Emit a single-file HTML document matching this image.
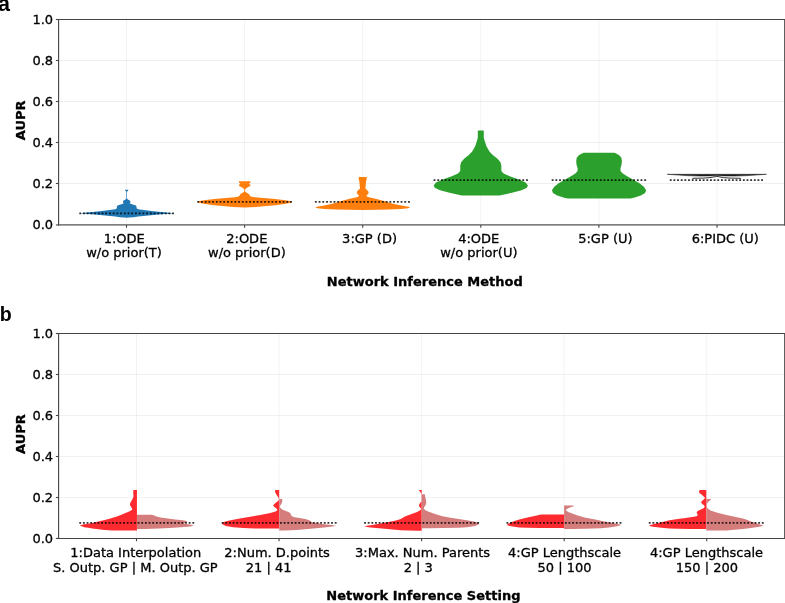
<!DOCTYPE html>
<html lang="en"><head><meta charset="utf-8"><title>AUPR violin plots</title>
<style>html,body{margin:0;padding:0;background:#fff}svg{display:block}text{font-family:'DejaVu Sans', 'Liberation Sans', sans-serif;fill:#000;stroke:#000;stroke-width:0.3px}.b{font-weight:bold}.pl{font-family:'Liberation Sans', 'DejaVu Sans', sans-serif;font-weight:bold;font-size:20px;stroke:none}</style></head><body>
<svg width="785" height="603" viewBox="0 0 785 603">
<rect width="785" height="603" fill="#fff"/>
<line x1="58.5" x2="784.5" y1="183.5" y2="183.5" stroke="#000" stroke-opacity="0.065" stroke-width="1"/>
<line x1="58.5" x2="784.5" y1="142.5" y2="142.5" stroke="#000" stroke-opacity="0.065" stroke-width="1"/>
<line x1="58.5" x2="784.5" y1="101.5" y2="101.5" stroke="#000" stroke-opacity="0.065" stroke-width="1"/>
<line x1="58.5" x2="784.5" y1="60.5" y2="60.5" stroke="#000" stroke-opacity="0.065" stroke-width="1"/>
<line x1="126.5" x2="126.5" y1="19.5" y2="224.5" stroke="#000" stroke-opacity="0.05" stroke-width="1"/>
<line x1="244.6" x2="244.6" y1="19.5" y2="224.5" stroke="#000" stroke-opacity="0.05" stroke-width="1"/>
<line x1="362.7" x2="362.7" y1="19.5" y2="224.5" stroke="#000" stroke-opacity="0.05" stroke-width="1"/>
<line x1="480.8" x2="480.8" y1="19.5" y2="224.5" stroke="#000" stroke-opacity="0.05" stroke-width="1"/>
<line x1="598.9" x2="598.9" y1="19.5" y2="224.5" stroke="#000" stroke-opacity="0.05" stroke-width="1"/>
<line x1="717" x2="717" y1="19.5" y2="224.5" stroke="#000" stroke-opacity="0.05" stroke-width="1"/>
<path d="M128.38 189.82 L128.08 190.74 L127.16 191.5 L127.01 192.12 L127.01 198.61 L127.85 199.61 L129.76 200.53 L130.37 201.29 L130.37 202.44 L129.61 203.2 L131.29 203.97 L133.58 204.73 L135.87 205.5 L136.64 206.64 L136.49 208.17 L137.4 208.78 L138.17 209.32 L141.99 209.85 L145.81 210.31 L153.46 211.23 L161.1 211.99 L168.75 212.76 L174.1 213.29 L168.75 213.68 L161.1 214.29 L153.46 214.9 L145.81 215.66 L138.17 216.58 L133.58 217.19 L128.99 217.57 L126.7 217.73 L126.7 217.73 L124.41 217.57 L119.82 217.19 L115.23 216.58 L107.59 215.66 L99.94 214.9 L92.3 214.29 L84.65 213.68 L79.3 213.29 L84.65 212.76 L92.3 211.99 L99.94 211.23 L107.59 210.31 L111.41 209.85 L115.23 209.32 L116 208.78 L116.91 208.17 L116.76 206.64 L117.53 205.5 L119.82 204.73 L122.11 203.97 L123.79 203.2 L123.03 202.44 L123.03 201.29 L123.64 200.53 L125.55 199.61 L126.39 198.61 L126.39 192.12 L126.24 191.5 L125.32 190.74 L125.02 189.82 Z" fill="#1f77b4"/>
<line x1="79.3" x2="174" y1="213.3" y2="213.3" stroke="#000" stroke-opacity="0.8" stroke-width="1.65" stroke-dasharray="1.85 1.864"/>
<path d="M250.43 181.21 L250.43 182.74 L249.29 183.35 L249.29 184.12 L250.43 184.73 L250.43 185.65 L249.29 186.56 L247.38 187.56 L245.62 188.7 L245.08 189.85 L245.08 191.38 L246.23 192.53 L248.52 193.67 L249.44 194.82 L250.05 195.97 L251.58 196.73 L254.64 197.27 L263.81 198.03 L275.28 199.02 L285.22 200.17 L289.81 200.94 L292.1 201.85 L290.57 202.85 L284.46 203.99 L275.28 205.14 L263.81 206.29 L256.17 207.05 L244.7 207.59 L244.7 207.59 L233.23 207.05 L225.59 206.29 L214.12 205.14 L204.94 203.99 L198.83 202.85 L197.3 201.85 L199.59 200.94 L204.18 200.17 L214.12 199.02 L225.59 198.03 L234.76 197.27 L237.82 196.73 L239.35 195.97 L239.96 194.82 L240.88 193.67 L243.17 192.53 L244.32 191.38 L244.32 189.85 L243.78 188.7 L242.02 187.56 L240.11 186.56 L238.97 185.65 L238.97 184.73 L240.11 184.12 L240.11 183.35 L238.97 182.74 L238.97 181.21 Z" fill="#ff7f0e"/>
<line x1="197.3" x2="291.9" y1="201.85" y2="201.85" stroke="#000" stroke-opacity="0.8" stroke-width="1.65" stroke-dasharray="1.85 1.860"/>
<path d="M366.68 176.91 L366.68 179.35 L366.14 180.88 L365.91 183.17 L365.61 186.23 L365.38 188.14 L366.14 189.29 L367.44 190.44 L368.43 191.58 L368.66 192.73 L368.05 193.88 L366.9 195.02 L366.52 196.17 L368.05 196.94 L371.11 197.7 L375.7 198.85 L380.28 199.99 L384.87 201.37 L389.46 202.75 L394.05 203.97 L399.01 205.12 L403.98 206.11 L408.57 206.87 L410.1 207.41 L407.81 208.17 L400.93 208.94 L389.46 209.55 L362.7 209.93 L362.7 209.93 L335.94 209.55 L324.47 208.94 L317.59 208.17 L315.3 207.41 L316.83 206.87 L321.42 206.11 L326.39 205.12 L331.35 203.97 L335.94 202.75 L340.53 201.37 L345.12 199.99 L349.7 198.85 L354.29 197.7 L357.35 196.94 L358.88 196.17 L358.5 195.02 L357.35 193.88 L356.74 192.73 L356.97 191.58 L357.96 190.44 L359.26 189.29 L360.02 188.14 L359.79 186.23 L359.49 183.17 L359.26 180.88 L358.72 179.35 L358.72 176.91 Z" fill="#ff7f0e"/>
<line x1="314.9" x2="409.9" y1="201.9" y2="201.9" stroke="#000" stroke-opacity="0.8" stroke-width="1.65" stroke-dasharray="1.85 1.876"/>
<path d="M483.44 130.54 L483.79 130.9 L483.79 137.57 L484.67 141.09 L486.42 146.36 L489.59 151.63 L493.1 155.15 L497.5 158.66 L500.48 162.18 L501.36 165.69 L501.36 170.97 L503.65 173.6 L509.8 176.24 L519.46 179.75 L525.62 182.39 L527.9 185.38 L526.85 187.66 L521.57 190.3 L511.03 192.93 L500.84 195.22 L499.78 195.57 L461.82 195.57 L460.76 195.22 L450.57 192.93 L440.03 190.3 L434.75 187.66 L433.7 185.38 L435.98 182.39 L442.14 179.75 L451.8 176.24 L457.95 173.6 L460.24 170.97 L460.24 165.69 L461.12 162.18 L464.1 158.66 L468.5 155.15 L472.01 151.63 L475.18 146.36 L476.93 141.09 L477.81 137.57 L477.81 130.9 L478.16 130.54 Z" fill="#2ca02c"/>
<line x1="433.6" x2="527.9" y1="180.1" y2="180.1" stroke="#000" stroke-opacity="0.8" stroke-width="1.65" stroke-dasharray="1.85 1.848"/>
<path d="M614.52 152.86 L616.62 153.74 L619.26 155.15 L621.37 157.79 L621.9 161.3 L621.55 164.82 L620.49 168.33 L620.49 170.97 L622.78 173.6 L627.17 176.24 L633.32 179.75 L639.47 183.27 L643.87 186.78 L646.15 190.3 L645.1 192.93 L640.88 195.57 L633.85 197.86 L630.33 198.56 L567.77 198.56 L564.25 197.86 L557.22 195.57 L553 192.93 L551.95 190.3 L554.23 186.78 L558.63 183.27 L564.78 179.75 L570.93 176.24 L575.32 173.6 L577.61 170.97 L577.61 168.33 L576.55 164.82 L576.2 161.3 L576.73 157.79 L578.84 155.15 L581.48 153.74 L583.58 152.86 Z" fill="#2ca02c"/>
<line x1="551.7" x2="646.1" y1="180.1" y2="180.1" stroke="#000" stroke-opacity="0.8" stroke-width="1.65" stroke-dasharray="1.85 1.852"/>
<path d="M667.2 174.3 L766.5 174.3 L748 175.6 L734 176.1 L724 175.9 L716.8 175.4 L710 175.9 L700 176.1 L686 175.6 Z" fill="#1a1a1a" stroke="#1a1a1a" stroke-width="0.5" stroke-linejoin="round"/>
<path d="M692.8 179.2 L692.8 178.3 L703 178.1 L710 177.6 L716.8 176.4 L723.5 177.6 L730 178.1 L740.4 178.3 L740.4 179.2" fill="none" stroke="#2a2a2a" stroke-width="0.95"/>
<line x1="669.8" x2="763" y1="180.15" y2="180.15" stroke="#000" stroke-opacity="0.8" stroke-width="1.65" stroke-dasharray="1.85 1.804"/>
<rect x="58" y="224" width="727" height="1" fill="#808080"/><rect x="58" y="225" width="727" height="1" fill="#a6a6a6"/>
<path d="M58.6 19.5 L58.6 224.97 M784.7 19.5 L784.7 224.97 M58.6 19.5 L784.5 19.5" fill="none" stroke="#444" stroke-width="1.1" stroke-linecap="square"/>
<line x1="55.9" x2="58.5" y1="224.97" y2="224.97" stroke="#444" stroke-width="1.1"/>
<text x="53.1" y="229.4" font-size="13" text-anchor="end">0.0</text>
<line x1="55.9" x2="58.5" y1="183.5" y2="183.5" stroke="#444" stroke-width="1.1"/>
<text x="53.1" y="188.4" font-size="13" text-anchor="end">0.2</text>
<line x1="55.9" x2="58.5" y1="142.5" y2="142.5" stroke="#444" stroke-width="1.1"/>
<text x="53.1" y="147.4" font-size="13" text-anchor="end">0.4</text>
<line x1="55.9" x2="58.5" y1="101.5" y2="101.5" stroke="#444" stroke-width="1.1"/>
<text x="53.1" y="106.4" font-size="13" text-anchor="end">0.6</text>
<line x1="55.9" x2="58.5" y1="60.5" y2="60.5" stroke="#444" stroke-width="1.1"/>
<text x="53.1" y="65.4" font-size="13" text-anchor="end">0.8</text>
<line x1="55.9" x2="58.5" y1="19.5" y2="19.5" stroke="#444" stroke-width="1.1"/>
<text x="53.1" y="24.4" font-size="13" text-anchor="end">1.0</text>
<line x1="126.5" x2="126.5" y1="224.97" y2="227.77" stroke="#444" stroke-width="1.1"/>
<line x1="244.6" x2="244.6" y1="224.97" y2="227.77" stroke="#444" stroke-width="1.1"/>
<line x1="362.7" x2="362.7" y1="224.97" y2="227.77" stroke="#444" stroke-width="1.1"/>
<line x1="480.8" x2="480.8" y1="224.97" y2="227.77" stroke="#444" stroke-width="1.1"/>
<line x1="598.9" x2="598.9" y1="224.97" y2="227.77" stroke="#444" stroke-width="1.1"/>
<line x1="717" x2="717" y1="224.97" y2="227.77" stroke="#444" stroke-width="1.1"/>
<text x="124.2" y="242.5" font-size="13" text-anchor="middle">1:ODE</text>
<text x="124" y="257.4" font-size="13" text-anchor="middle">w/o prior(T)</text>
<text x="246.8" y="242.5" font-size="13" text-anchor="middle">2:ODE</text>
<text x="246.9" y="257.4" font-size="13" text-anchor="middle">w/o prior(D)</text>
<text x="369.55" y="242.5" font-size="13" text-anchor="middle">3:GP (D)</text>
<text x="478.7" y="242.5" font-size="13" text-anchor="middle">4:ODE</text>
<text x="478.85" y="257.4" font-size="13" text-anchor="middle">w/o prior(U)</text>
<text x="605.4" y="242.5" font-size="13" text-anchor="middle">5:GP (U)</text>
<text x="725.3" y="242.5" font-size="13" text-anchor="middle">6:PIDC (U)</text>
<text x="424.8" y="285.9" font-size="13" class="b" text-anchor="middle">Network Inference Method</text>
<text transform="translate(24.9 120.4) rotate(-90)" font-size="13" class="b" text-anchor="middle">AUPR</text>
<text x="-1.9" y="11.2" class="pl" style="font-size:21.5px">a</text>
<line x1="58.5" x2="784.5" y1="497.5" y2="497.5" stroke="#000" stroke-opacity="0.05" stroke-width="1"/>
<line x1="58.5" x2="784.5" y1="456.5" y2="456.5" stroke="#000" stroke-opacity="0.05" stroke-width="1"/>
<line x1="58.5" x2="784.5" y1="415.5" y2="415.5" stroke="#000" stroke-opacity="0.05" stroke-width="1"/>
<line x1="58.5" x2="784.5" y1="374.5" y2="374.5" stroke="#000" stroke-opacity="0.05" stroke-width="1"/>
<line x1="136.5" x2="136.5" y1="333.5" y2="538.5" stroke="#000" stroke-opacity="0.05" stroke-width="1"/>
<line x1="279.06" x2="279.06" y1="333.5" y2="538.5" stroke="#000" stroke-opacity="0.05" stroke-width="1"/>
<line x1="421.62" x2="421.62" y1="333.5" y2="538.5" stroke="#000" stroke-opacity="0.05" stroke-width="1"/>
<line x1="564.18" x2="564.18" y1="333.5" y2="538.5" stroke="#000" stroke-opacity="0.05" stroke-width="1"/>
<line x1="706.74" x2="706.74" y1="333.5" y2="538.5" stroke="#000" stroke-opacity="0.05" stroke-width="1"/>
<path d="M136.95 489.91 L133.28 489.91 L133.28 494.15 L133.53 496.59 L132.47 499.04 L131.08 501.48 L130.02 503.52 L130.02 505.15 L131.08 506.78 L131.9 508.41 L132.22 509.63 L129.78 511.26 L124.89 513.3 L120.81 514.93 L116.74 516.56 L112.66 517.78 L108.59 519.01 L104.51 520.07 L100.44 521.04 L96.36 522.02 L92.29 523.08 L88.21 523.73 L84.14 524.3 L81.12 524.96 L79.9 525.69 L81.94 526.34 L84.14 527.16 L88.21 527.81 L92.29 528.54 L96.36 529.11 L100.44 529.6 L104.51 530.01 L108.59 530.25 L112.66 530.5 L120.65 530.58 L136.95 530.58 Z" fill="#fd2b30"/>
<path d="M136.95 514.69 L151.62 514.69 L153.66 515.34 L156.51 516.56 L160.58 517.62 L167.92 518.6 L175.25 519.41 L182.59 520.23 L186.66 521.04 L187.24 521.86 L185.03 522.84 L183.57 523.65 L186.66 524.06 L191.15 524.63 L194 525.69 L189.92 526.51 L180.96 527.32 L169.55 528.05 L158.95 528.54 L145.1 528.95 L136.95 528.95 Z" fill="#d57d7d"/>
<line x1="79.3" x2="194.2" y1="522.9" y2="522.9" stroke="#000" stroke-opacity="0.8" stroke-width="1.65" stroke-dasharray="1.85 1.797"/>
<path d="M279.2 489.91 L275.13 489.91 L275.13 492.11 L275.94 493.74 L277.16 495.78 L278.55 497.82 L278.96 499.45 L278.39 500.67 L276.35 502.3 L274.31 503.93 L273.09 505.56 L274.72 507.19 L276.76 508.82 L277.41 510.04 L276.76 510.86 L275.53 511.59 L270.4 512.89 L260.21 514.93 L250.02 516.73 L238.45 518.76 L228.18 520.8 L223.78 522.02 L221.82 523.08 L222.56 524.3 L225.65 525.93 L233.32 527.16 L243.5 527.97 L254.75 528.38 L271.05 528.54 L279.2 528.54 Z" fill="#fd2b30"/>
<path d="M279.2 499.04 L282.05 499.04 L282.3 501.08 L281.81 503.11 L280.42 505.15 L279.85 506.78 L280.83 508.41 L283.27 510.04 L286.53 511.26 L289.39 512.49 L290.61 513.71 L291.02 514.93 L291.83 516.15 L294.68 517.13 L299.57 517.95 L305.28 519.01 L309.35 520.23 L310.98 521.45 L312.61 522.51 L318.32 523.33 L324.02 524.14 L331.36 525.12 L335.43 525.77 L336.25 526.1 L332.17 526.59 L324.02 527.4 L315.87 528.22 L307.72 528.95 L299.57 529.68 L291.42 530.25 L284.09 530.5 L279.2 530.5 Z" fill="#d57d7d"/>
<line x1="221.7" x2="336.6" y1="522.9" y2="522.9" stroke="#000" stroke-opacity="0.8" stroke-width="1.65" stroke-dasharray="1.85 1.797"/>
<path d="M421.7 489.91 L418.85 489.91 L419.42 490.89 L420.72 492.52 L421.46 493.74 L421.46 501.48 L420.07 503.11 L418.85 505.15 L419.42 506.78 L420.89 508.41 L421.05 509.63 L419.66 510.45 L417.05 512.08 L408.9 514.93 L404.83 516.56 L400.75 519.01 L396.68 520.23 L392.6 521.21 L388.53 522.02 L384.45 522.84 L380.38 523.57 L376.3 524.3 L372.23 524.96 L368.15 525.53 L365.47 526.02 L364.24 526.34 L366.28 526.75 L368.15 527.16 L376.3 527.97 L384.45 528.79 L392.6 529.6 L400.75 530.25 L408.9 530.58 L417.63 530.66 L421.7 530.66 Z" fill="#fd2b30"/>
<path d="M421.7 494.15 L424.8 494.15 L425.12 496.59 L425.77 499.04 L426.18 501.48 L426.18 503.52 L425.37 505.56 L424.14 507.19 L423.74 508.66 L424.96 509.63 L426.18 510.86 L434.33 513.71 L442.48 516.15 L450.63 517.78 L458.78 519.01 L466.93 520.23 L472.23 521.21 L475.08 521.86 L477.93 522.67 L478.99 523.49 L478.34 524.47 L475.08 525.93 L466.93 527.16 L458.78 527.73 L442.48 528.05 L429.85 528.14 L421.7 528.14 Z" fill="#d57d7d"/>
<line x1="364.1" x2="479" y1="522.9" y2="522.9" stroke="#000" stroke-opacity="0.8" stroke-width="1.65" stroke-dasharray="1.85 1.797"/>
<path d="M564.1 514.52 L541.28 514.52 L535.58 515.75 L527.43 517.62 L519.28 519.41 L515.2 520.64 L511.13 522.27 L508.27 523.65 L506.89 524.96 L508.68 525.77 L511.13 526.34 L519.28 527.4 L527.43 527.81 L539.65 527.97 L564.1 527.97 Z" fill="#fd2b30"/>
<path d="M564.1 505.4 L573.88 505.4 L573.47 506.21 L570.62 507.19 L567.77 508.41 L565.89 509.63 L566.14 510.45 L568.17 512.08 L572.25 513.55 L576.32 514.93 L580.4 516.32 L584.47 517.38 L588.55 518.27 L592.62 519.01 L596.7 519.82 L600.77 520.64 L604.85 521.45 L608.92 522.27 L613 523.08 L617.07 523.9 L619.93 524.55 L621.15 524.96 L619.93 525.61 L617.07 526.34 L608.92 527.4 L600.77 528.14 L592.62 528.62 L584.47 528.87 L572.25 528.95 L564.1 528.95 Z" fill="#d57d7d"/>
<line x1="506.5" x2="621.4" y1="522.9" y2="522.9" stroke="#000" stroke-opacity="0.8" stroke-width="1.65" stroke-dasharray="1.85 1.797"/>
<path d="M706.3 489.91 L699.78 489.91 L698.97 491.3 L699.37 492.93 L701.41 494.56 L703.45 496.19 L705.08 497.82 L704.26 499.04 L702.23 500.67 L701 502.3 L701.82 503.52 L703.86 505.15 L704.83 506.78 L703.86 508 L701.41 509.23 L698.56 510.45 L696.93 511.67 L696.68 512.89 L697.5 514.12 L697.74 515.34 L696.52 516.15 L693.91 516.81 L685.76 517.95 L677.61 519.01 L669.46 520.23 L661.31 522.27 L657.24 523.33 L653.16 524.3 L650.47 525.12 L649.01 525.69 L650.47 526.18 L653.16 526.75 L661.31 527.73 L669.46 528.38 L677.61 528.79 L690 528.95 L706.3 528.95 Z" fill="#fd2b30"/>
<path d="M706.3 499.04 L711.19 499.04 L710.21 500.26 L708.74 501.48 L707.28 503.11 L706.71 505.15 L706.95 507.19 L707.93 508.82 L709.56 509.8 L710.37 510.45 L718.36 513.06 L726.51 514.93 L734.66 516.81 L742.81 518.6 L746.89 519.82 L750.96 521.45 L755.04 522.84 L759.11 524.3 L761.72 525.12 L763.35 525.77 L761.72 526.26 L759.11 526.75 L750.96 527.97 L742.81 529.03 L734.66 529.85 L726.51 530.42 L714.45 530.58 L706.3 530.58 Z" fill="#d57d7d"/>
<line x1="648.8" x2="763.7" y1="522.9" y2="522.9" stroke="#000" stroke-opacity="0.8" stroke-width="1.65" stroke-dasharray="1.85 1.797"/>
<line x1="58.6" x2="784.5" y1="538.45" y2="538.45" stroke="#444" stroke-width="1.1" stroke-linecap="square"/>
<path d="M58.6 333.5 L58.6 538.45 M784.7 333.5 L784.7 538.45 M58.6 333.5 L784.5 333.5" fill="none" stroke="#444" stroke-width="1.1" stroke-linecap="square"/>
<line x1="55.9" x2="58.5" y1="538.45" y2="538.45" stroke="#444" stroke-width="1.1"/>
<text x="53.1" y="543.4" font-size="13" text-anchor="end">0.0</text>
<line x1="55.9" x2="58.5" y1="497.5" y2="497.5" stroke="#444" stroke-width="1.1"/>
<text x="53.1" y="502.4" font-size="13" text-anchor="end">0.2</text>
<line x1="55.9" x2="58.5" y1="456.5" y2="456.5" stroke="#444" stroke-width="1.1"/>
<text x="53.1" y="461.4" font-size="13" text-anchor="end">0.4</text>
<line x1="55.9" x2="58.5" y1="415.5" y2="415.5" stroke="#444" stroke-width="1.1"/>
<text x="53.1" y="420.4" font-size="13" text-anchor="end">0.6</text>
<line x1="55.9" x2="58.5" y1="374.5" y2="374.5" stroke="#444" stroke-width="1.1"/>
<text x="53.1" y="379.4" font-size="13" text-anchor="end">0.8</text>
<line x1="55.9" x2="58.5" y1="333.5" y2="333.5" stroke="#444" stroke-width="1.1"/>
<text x="53.1" y="338.4" font-size="13" text-anchor="end">1.0</text>
<line x1="136.5" x2="136.5" y1="538.45" y2="541.25" stroke="#444" stroke-width="1.1"/>
<line x1="279.06" x2="279.06" y1="538.45" y2="541.25" stroke="#444" stroke-width="1.1"/>
<line x1="421.62" x2="421.62" y1="538.45" y2="541.25" stroke="#444" stroke-width="1.1"/>
<line x1="564.18" x2="564.18" y1="538.45" y2="541.25" stroke="#444" stroke-width="1.1"/>
<line x1="706.74" x2="706.74" y1="538.45" y2="541.25" stroke="#444" stroke-width="1.1"/>
<text x="135.8" y="557.3" font-size="13" text-anchor="middle">1:Data Interpolation</text>
<text x="135.35" y="572.2" font-size="13" text-anchor="middle">S. Outp. GP | M. Outp. GP</text>
<text x="277.1" y="557.3" font-size="13" text-anchor="middle">2:Num. D.points</text>
<text x="268.65" y="572.2" font-size="13" text-anchor="middle">21 | 41</text>
<text x="422.6" y="557.3" font-size="13" text-anchor="middle">3:Max. Num. Parents</text>
<text x="418.3" y="572.2" font-size="13" text-anchor="middle">2 | 3</text>
<text x="564.55" y="557.3" font-size="13" text-anchor="middle">4:GP Lengthscale</text>
<text x="564.55" y="572.2" font-size="13" text-anchor="middle">50 | 100</text>
<text x="706.5" y="557.3" font-size="13" text-anchor="middle">4:GP Lengthscale</text>
<text x="706.85" y="572.2" font-size="13" text-anchor="middle">150 | 200</text>
<text x="423.4" y="600.3" font-size="13" class="b" text-anchor="middle">Network Inference Setting</text>
<text transform="translate(24.9 434.1) rotate(-90)" font-size="13" class="b" text-anchor="middle">AUPR</text>
<text x="-0.3" y="320.5" class="pl" style="font-size:19.6px">b</text>
</svg></body></html>
